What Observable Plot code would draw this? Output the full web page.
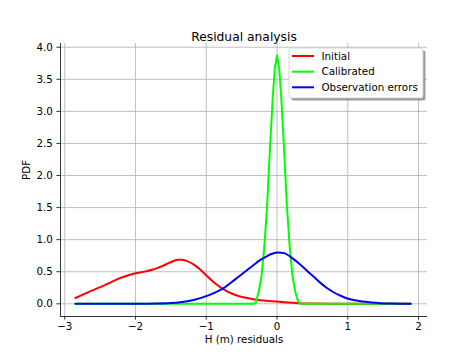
<!DOCTYPE html>
<html>
<head>
<meta charset="utf-8">
<script src="https://cdn.jsdelivr.net/npm/d3@7"></script>
<script src="https://cdn.jsdelivr.net/npm/@observablehq/plot@0.6"></script>
<style>
  html, body { margin: 0; padding: 0; background: #fff; }
  #chart svg { display: block; }
</style>
</head>
<body>
<div id="chart"></div>
<script>
// ---- Data ----
const titleText = "Residual analysis";
const xLabel = "H (m) residuals";
const yLabel = "PDF";

const xTicks = [-3, -2, -1, 0, 1, 2];
const yTicks = [0, 0.5, 1, 1.5, 2, 2.5, 3, 3.5, 4];

const seriesNames = ["Initial", "Calibrated", "Observation errors"];
const seriesColors = ["#ff0000", "#00ff00", "#0000ff"];

const initialX = [-2.85, -2.68, -2.5, -2.35, -2.22, -2.1, -1.98, -1.86, -1.75, -1.65, -1.56, -1.48, -1.4, -1.34, -1.27, -1.18, -1.09, -1.0, -0.88, -0.76, -0.64, -0.52, -0.4, -0.29, -0.15, 0.0, 0.15, 0.3, 0.5, 0.8, 1.2, 1.89];
const initialY = [0.09, 0.175, 0.26, 0.335, 0.4, 0.445, 0.48, 0.505, 0.535, 0.575, 0.62, 0.66, 0.685, 0.685, 0.665, 0.615, 0.54, 0.445, 0.325, 0.23, 0.16, 0.115, 0.085, 0.062, 0.046, 0.035, 0.02, 0.01, 0.004, 0.001, 0, 0];

const calibratedX = [-2.85, -0.33, -0.3, -0.26, -0.22, -0.18, -0.14, -0.1, -0.06, -0.03, 0.0, 0.03, 0.06, 0.1, 0.14, 0.18, 0.22, 0.26, 0.3, 0.33, 1.89];
const calibratedY = [0, 0, 0.02, 0.18, 0.42, 0.88, 1.52, 2.41, 3.22, 3.68, 3.87, 3.68, 3.22, 2.41, 1.52, 0.88, 0.42, 0.18, 0.03, 0, 0];

const obsX = [-2.85, -2.4, -2.0, -1.7, -1.5, -1.37, -1.18, -1.0, -0.88, -0.76, -0.64, -0.52, -0.43, -0.335, -0.24, -0.146, -0.07, 0.02, 0.1, 0.23, 0.32, 0.42, 0.52, 0.61, 0.7, 0.8, 0.9, 0.985, 1.1, 1.22, 1.34, 1.46, 1.6, 1.75, 1.89];
const obsY = [0, 0, 0.001, 0.005, 0.013, 0.025, 0.06, 0.12, 0.175, 0.24, 0.34, 0.44, 0.52, 0.6, 0.68, 0.74, 0.78, 0.8, 0.79, 0.7, 0.62, 0.52, 0.42, 0.33, 0.25, 0.18, 0.125, 0.087, 0.055, 0.035, 0.02, 0.01, 0.004, 0.001, 0];

// ---- Build tables ----
const toRows = (xs, ys, name) => xs.map((x, i) => ({x, y: ys[i], series: name}));
const initialRows = toRows(initialX, initialY, seriesNames[0]);
const calibratedRows = toRows(calibratedX, calibratedY, seriesNames[1]);
const obsRows = toRows(obsX, obsY, seriesNames[2]);

const xDomain = [-3.06, 2.127];
const yDomain = [-0.198, 4.058];
const font = "DejaVu Sans, sans-serif";
const gridStyle = {stroke: "#b0b0b0", strokeOpacity: 1, strokeWidth: 0.8};

const chart = Plot.plot({
  width: 474,
  height: 355,
  marginLeft: 60,
  marginRight: 47,
  marginTop: 43,
  marginBottom: 39,
  x: {domain: xDomain},
  y: {domain: yDomain},
  style: {fontFamily: font, fontSize: "10.3px", color: "#000", background: "#fff"},
  marks: [
    Plot.gridX(xTicks, gridStyle),
    Plot.gridY(yTicks, gridStyle),
    Plot.axisX(xTicks, {tickSize: 3.6, tickPadding: 2.5, label: null, tickFormat: d3.format("d"), fontSize: 10.3, strokeWidth: 0.8}),
    Plot.axisY(yTicks, {tickSize: 3.6, tickPadding: 4, label: null, tickFormat: d3.format(".1f"), fontSize: 10.3, strokeWidth: 0.8}),
    Plot.ruleX([xDomain[0]], {stroke: "#000", strokeWidth: 0.8}),
    Plot.ruleY([yDomain[0]], {stroke: "#000", strokeWidth: 0.8}),
    Plot.line(initialRows, {x: "x", y: "y", stroke: seriesColors[0], strokeWidth: 2, curve: "catmull-rom"}),
    Plot.line(calibratedRows, {x: "x", y: "y", stroke: seriesColors[1], strokeWidth: 2, curve: "linear"}),
    Plot.line(obsRows, {x: "x", y: "y", stroke: seriesColors[2], strokeWidth: 2, curve: "monotone-x"}),
    Plot.text([titleText], {text: d => d, frameAnchor: "top", dy: -11, fontSize: 12.3, fill: "#000"}),
    Plot.text([xLabel], {text: d => d, frameAnchor: "bottom", dy: 26, fontSize: 10.3, fill: "#000"}),
    Plot.text([yLabel], {text: d => d, frameAnchor: "left", dx: -33.5, rotate: -90, fontSize: 10.3, fill: "#000"})
  ]
});

// ---- Legend (inside the axes, upper right) ----
const svg = d3.select(chart);
const lg = svg.append("g").attr("font-family", font).attr("font-size", "10.3px").attr("text-anchor", "start");
const bx = 289, by = 48, bw = 134, bh = 50;
lg.append("rect").attr("x", bx + 2.5).attr("y", by + 2.5).attr("width", bw).attr("height", bh)
  .attr("rx", 2).attr("fill", "#8c8c8c").attr("fill-opacity", 0.85);
lg.append("rect").attr("x", bx).attr("y", by).attr("width", bw).attr("height", bh)
  .attr("rx", 2).attr("fill", "#fff").attr("stroke", "#cccccc").attr("stroke-width", 0.8);
const rowY = [56, 71.7, 87.3];
seriesNames.forEach((name, i) => {
  lg.append("line").attr("x1", 292).attr("x2", 314).attr("y1", rowY[i]).attr("y2", rowY[i])
    .attr("stroke", seriesColors[i]).attr("stroke-width", 2);
  lg.append("text").attr("x", 321.5).attr("y", rowY[i]).attr("dy", "0.35em")
    .attr("text-anchor", "start").attr("fill", "#000").text(name);
});

document.getElementById("chart").appendChild(chart);
</script>
</body>
</html>
